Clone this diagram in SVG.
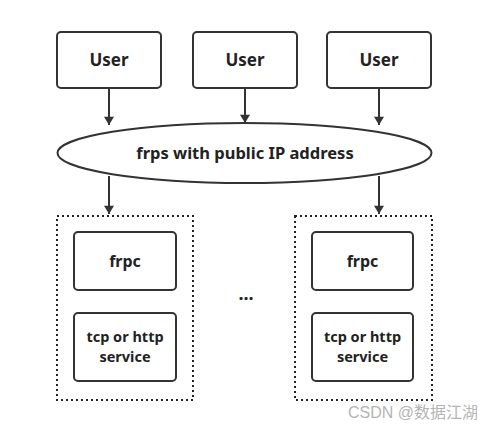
<svg xmlns="http://www.w3.org/2000/svg" width="492" height="429" viewBox="0 0 492 429">
<defs>
<marker id="ah" viewBox="0 0 10 12" refX="10" refY="6" markerWidth="12" markerHeight="10" markerUnits="userSpaceOnUse" orient="auto">
<path d="M0,0 L10,6 L0,12 z" fill="#333"/>
</marker>
</defs>
<style>
.box{fill:#fff;stroke:#333;stroke-width:2}
.dot{fill:none;stroke:#222;stroke-width:2;stroke-dasharray:2 3}
.t{font-family:"Noto Sans","Open Sans",sans-serif;font-weight:bold;fill:#222;text-anchor:middle}
.s{font-size:14.5px}
.c{stroke:#333;stroke-width:2;fill:none}
</style>
<rect width="492" height="429" fill="#fff"/>
<g id="user1"><rect class="box" x="57" y="32" width="104" height="56" rx="4"/><text class="t" x="109" y="66" font-size="17">User</text></g>
<g id="user2"><rect class="box" x="193" y="32" width="104" height="56" rx="4"/><text class="t" x="245" y="66" font-size="17">User</text></g>
<g id="user3"><rect class="box" x="327" y="32" width="104" height="56" rx="4"/><text class="t" x="379" y="66" font-size="17">User</text></g>
<g id="frps"><ellipse class="box" cx="244.5" cy="153" rx="187" ry="30"/><text class="t" x="245" y="159" font-size="16.5">frps with public IP address</text></g>
<g id="group1"><rect class="dot" x="57" y="216" width="136" height="184"/></g>
<g id="group2"><rect class="dot" x="295" y="216" width="137" height="184"/></g>
<g id="frpc1"><rect class="box" x="74" y="232" width="102" height="58" rx="4"/><text class="t" x="125" y="267" font-size="16">frpc</text></g>
<g id="svc1"><rect class="box" x="74" y="313" width="102" height="68" rx="4"/><text class="t s" x="125" y="342">tcp or http</text><text class="t s" x="125" y="362">service</text></g>
<g id="frpc2"><rect class="box" x="312" y="232" width="101" height="58" rx="4"/><text class="t" x="362.5" y="267" font-size="16">frpc</text></g>
<g id="svc2"><rect class="box" x="312" y="313" width="101" height="68" rx="4"/><text class="t s" x="362.5" y="342">tcp or http</text><text class="t s" x="362.5" y="362">service</text></g>
<g id="ellipsis"><text class="t" x="246" y="300" font-size="18">...</text></g>
<g id="connectors">
<line class="c" x1="109" y1="88" x2="109" y2="125" marker-end="url(#ah)"/>
<line class="c" x1="245" y1="88" x2="245" y2="123" marker-end="url(#ah)"/>
<line class="c" x1="379" y1="88" x2="379" y2="125" marker-end="url(#ah)"/>
<line class="c" x1="109" y1="176" x2="109" y2="214" marker-end="url(#ah)"/>
<line class="c" x1="379" y1="176" x2="379" y2="214" marker-end="url(#ah)"/>
</g>
<text x="478" y="418" font-family="'Liberation Sans','Noto Sans CJK SC',sans-serif" font-size="16" fill="#b4b4b4" text-anchor="end">CSDN @数据江湖</text>
</svg>
